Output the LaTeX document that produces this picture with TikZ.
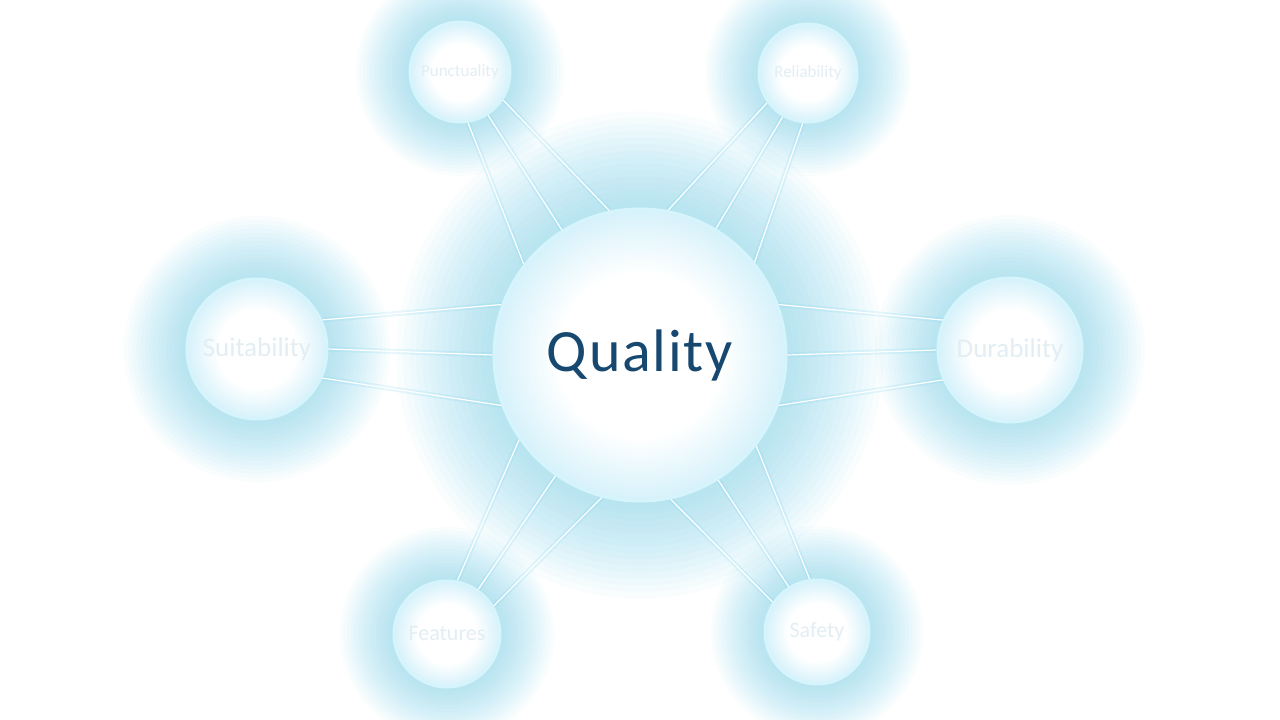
\documentclass[tikz,border=0pt]{standalone}
\usepackage{fontspec}
\setmainfont{Carlito}
\definecolor{glowc}{RGB}{120,210,240}
\definecolor{edgec}{RGB}{180,230,247}
\definecolor{ringc}{RGB}{214,244,252}
\definecolor{qblue}{RGB}{22,72,112}
\definecolor{faint}{RGB}{226,238,244}
\pgfdeclareradialshading{bubble}{\pgfpoint{0bp}{0bp}}{color(0bp)=(white); color(14bp)=(white); color(26bp)=(edgec!60); color(35bp)=(edgec); color(50bp)=(edgec)}
\pgfdeclarelayer{glow}
\pgfdeclarelayer{lines}
\pgfsetlayers{glow,lines,main}
\tikzset{
  bub/.style={circle, inner sep=0pt, shade, shading=bubble, draw=ringc, line width=3pt},
  small/.style={font=\fontsize{#1}{#1}\selectfont, text=faint},
  conn/.style={draw=white, line width=1.2pt, preaction={draw=glowc, line width=5pt, opacity=0.18}},
  halo/.style={fill=glowc, fill opacity=0.042}
}
\begin{document}
\begin{tikzpicture}[x=1pt,y=-1pt]
\path[use as bounding box] (0,0) rectangle (1280,720);
% nodes
\node[bub, minimum size=292pt, font=\fontsize{60}{60}\selectfont\addfontfeatures{LetterSpace=3}, text=qblue] (c) at (640,355) {Quality};
\node[bub, minimum size=100pt, small=17] (tl) at (460,72) {Punctuality};
\node[bub, minimum size=98pt, small=17] (tr) at (808,73) {Reliability};
\node[bub, minimum size=140pt, small=27] (l) at (257,349) {Suitability};
\node[bub, minimum size=144pt, small=27] (r) at (1010,350) {Durability};
\node[bub, minimum size=106pt, small=22] (bl) at (447,634) {Features};
\node[bub, minimum size=104pt, small=22] (br) at (817,632) {Safety};
% background and glows
\begin{pgfonlayer}{glow}
\path[fill=white] (0,0) rectangle (1280,720);
\foreach \o/\ri/\st in {c/146/6.5, tl/50/3.6, tr/49/3.6, l/70/4.2, r/72/4.2, bl/53/3.6, br/52/3.6}
  \foreach \k in {1,...,15}
    \fill[halo] (\o) circle ({(\ri+\k*\st)*1pt});
\end{pgfonlayer}
% connectors
\begin{pgfonlayer}{lines}
\foreach \o/\a in {tl/-57.5, tr/-120.8, l/0, r/180, bl/55.3, br/122.6}{
  \foreach \s in {-1,0,1}{
    \pgfmathsetmacro\ao{\a+\s*24}
    \pgfmathsetmacro\ac{\a+180-\s*20}
    \draw[conn] (\o.\ao) -- (c.\ac);
  }
}
\end{pgfonlayer}
\end{tikzpicture}
\end{document}
